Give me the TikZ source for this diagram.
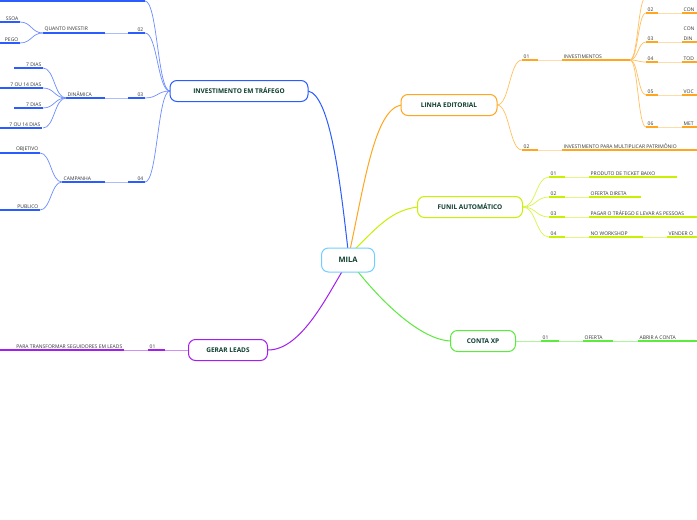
\documentclass[tikz,border=0pt]{standalone}
\usepackage{fontspec}
\setmainfont{Open Sans}
\definecolor{cb}{HTML}{2B5CFF}
\definecolor{co}{HTML}{FFA51E}
\definecolor{cy}{HTML}{C8F000}
\definecolor{cg}{HTML}{5AEB3C}
\definecolor{cp}{HTML}{A51EF0}
\definecolor{ct}{HTML}{0B3D2E}
\newcommand{\lf}[6]{% color x1 x2 y text anchor(l/r)
  \draw[#1,line width=1.6pt] (#2,#4)--(#3,#4);
  \ifx l#6\node[lt,anchor=south west] at (#2,#4) {#5};\else\node[lt,anchor=south east] at (#3,#4) {#5};\fi}
\newcommand{\cv}[5]{\draw[#1!70,line width=0.7pt] (#2,#3) .. controls ($(#2,#3)!0.5!(#4,#3)$) and ($(#2,#5)!0.5!(#4,#5)$) .. (#4,#5);}
\usetikzlibrary{calc}
\begin{document}
\begin{tikzpicture}[x=1pt,y=-1pt,
  lt/.style={font=\fontsize{5}{5.5}\selectfont,text=black!80,inner sep=1.5pt},
  mn/.style={draw,line width=1pt,rounded corners=7pt,fill=white,font=\bfseries\fontsize{6.5}{7}\selectfont,text=ct,minimum height=21pt,inner xsep=6pt}]
\useasboundingbox (0,0) rectangle (697,520);
\clip (0,0) rectangle (697,520);
\fill[white] (0,0) rectangle (697,520);
% connectors main
\draw[cb,line width=1pt] (348,250) .. controls (340,180) and (330,95) .. (308,91);
\draw[co,line width=1pt] (350,250) .. controls (365,180) and (375,110) .. (401,105);
\draw[cy,line width=1pt] (352,252) .. controls (375,230) and (390,210) .. (418,207);
\draw[cg,line width=1pt] (355,268) .. controls (380,300) and (420,340) .. (451,341);
\draw[cp,line width=1pt] (343,270) .. controls (325,300) and (300,350) .. (268,350);
% blue
\cv{cb}{170}{91}{145}{1}\cv{cb}{170}{91}{145}{33}\cv{cb}{170}{91}{145}{98}\cv{cb}{170}{91}{145}{182}
\draw[cb,line width=1.6pt] (0,1)--(145,1);
\lf{cb}{128}{145}{33}{02}{r}\lf{cb}{43}{105}{33}{QUANTO INVESTIR}{l}
\draw[cb!40,line width=1pt] (105,33)--(128,33) (105,98)--(128,98) (105,182)--(128,182);
\cv{cb}{43}{33}{20}{22}\cv{cb}{43}{33}{20}{43}
\lf{cb}{0}{20}{22}{SSOA}{r}\lf{cb}{0}{20}{43}{PEGO}{r}
\lf{cb}{128}{145}{98}{03}{r}\lf{cb}{66}{105}{98}{DINÂMICA}{l}
\cv{cb}{66}{98}{43}{68}\cv{cb}{66}{98}{43}{88}\cv{cb}{66}{98}{43}{108}\cv{cb}{66}{98}{43}{128}
\lf{cb}{14}{43}{68}{7 DIAS}{r}\lf{cb}{0}{43}{88}{7 OU 14 DIAS}{r}\lf{cb}{14}{43}{108}{7 DIAS}{r}\lf{cb}{0}{42}{128}{7 OU 14 DIAS}{r}
\lf{cb}{128}{145}{182}{04}{r}\lf{cb}{62}{105}{182}{CAMPANHA}{l}
\cv{cb}{62}{182}{40}{153}\cv{cb}{62}{182}{40}{210}
\lf{cb}{0}{40}{153}{OBJETIVO}{r}\lf{cb}{0}{40}{210}{PUBLICO}{r}
% orange
\cv{co}{497}{105}{522}{60}\cv{co}{497}{105}{522}{150}
\lf{co}{522}{538}{60}{01}{l}\lf{co}{562}{630}{60}{INVESTIMENTOS}{l}
\draw[co!40,line width=1pt] (538,60)--(562,60) (538,150)--(562,150);
\lf{co}{522}{538}{150}{02}{l}\lf{co}{562}{697}{150}{INVESTIMENTO PARA MULTIPLICAR PATRIMÔNIO}{l}
\foreach \yy/\nn/\tt in {13/02/CON,42/03/DIN,62/04/TOD,95/05/VOC,127/06/MET}{
 \cv{co}{630}{60}{646}{\yy}
 \draw[co!40,line width=1pt] (658,\yy)--(682,\yy);
 \lf{co}{646}{658}{\yy}{\nn}{l}\lf{co}{682}{697}{\yy}{\tt}{l}}
\cv{co}{630}{60}{646}{-3}
\node[lt,anchor=south west] at (682,32) {CON};
% yellow
\foreach \yy in {177,197,217,237}{\cv{cy}{523}{207}{549}{\yy}}
\draw[cy!50,line width=1pt] (565,177)--(589,177) (565,197)--(589,197) (565,217)--(589,217) (565,237)--(697,237);
\lf{cy}{549}{565}{177}{01}{l}\lf{cy}{589}{677}{177}{PRODUTO DE TICKET BAIXO}{l}
\lf{cy}{549}{565}{197}{02}{l}\lf{cy}{589}{641}{197}{OFERTA DIRETA}{l}
\lf{cy}{549}{565}{217}{03}{l}\lf{cy}{589}{697}{217}{PAGAR O TRÁFEGO E LEVAR AS PESSOAS}{l}
\lf{cy}{549}{565}{237}{04}{l}\lf{cy}{589}{643}{237}{NO WORKSHOP}{l}\lf{cy}{667}{697}{237}{VENDER O}{l}
% green
\draw[cg!50,line width=1pt] (516,341)--(697,341);
\lf{cg}{541}{559}{341}{01}{l}\lf{cg}{583}{613}{341}{OFERTA}{l}\lf{cg}{638}{697}{341}{ABRIR A CONTA}{l}
% purple
\draw[cp!50,line width=1pt] (124,350)--(189,350);
\lf{cp}{148}{165}{350}{01}{l}\lf{cp}{0}{124}{350}{PARA TRANSFORMAR SEGUIDORES EM LEADS}{r}
% main nodes
\node[mn,draw=cb,minimum width=138pt] (it) at (239,91) {INVESTIMENTO EM TRÁFEGO};
\node[mn,draw=co,minimum width=96pt] (le) at (449,105) {LINHA EDITORIAL};
\node[mn,draw=cy,minimum width=105pt] (fa) at (470,207) {FUNIL AUTOMÁTICO};
\node[mn,draw=cg,minimum width=65pt] (cx) at (483,341) {CONTA XP};
\node[mn,draw=cp,minimum width=79pt] (gl) at (228,350) {GERAR LEADS};
\node[mn,draw=cb!50!cyan!60,minimum width=53pt,minimum height=24pt,font=\bfseries\fontsize{7.5}{8}\selectfont] (mila) at (348,260) {MILA};
\end{tikzpicture}
\end{document}
